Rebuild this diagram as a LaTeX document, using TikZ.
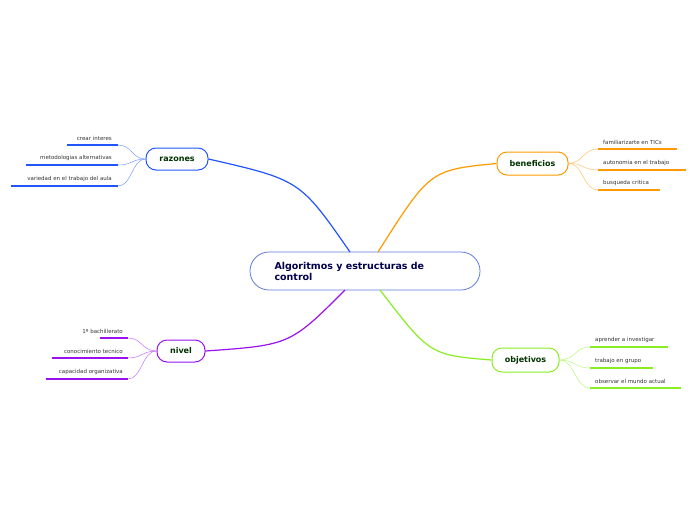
\documentclass[tikz,border=0pt]{standalone}
\usepackage{fontspec}
\setmainfont{DejaVu Sans}
\begin{document}
\begin{tikzpicture}[x=1pt,y=-1pt,
  topic/.style={draw,line width=1pt,rounded corners=10pt,fill=white,font=\fontsize{8}{9}\selectfont\bfseries,text=green!20!black,minimum height=22pt,inner sep=0pt},
  leaf/.style={font=\fontsize{5.5}{6}\selectfont,text=black!80,inner sep=1pt},
  ll/.style={line width=1.6pt},
  cl/.style={line width=0.5pt}]
\useasboundingbox (0,0) rectangle (696,520);
\definecolor{cb}{HTML}{2255FF}\definecolor{co}{HTML}{FF9900}
\definecolor{cp}{HTML}{9911EE}\definecolor{cg}{HTML}{88EE22}
\node[draw=black!20!cb!70,line width=0.8pt,rounded corners=19pt,minimum width=230pt,minimum height=38pt,fill=white] (c) at (365,271) {};
\node[anchor=west,align=left,font=\fontsize{9.5}{11}\selectfont\bfseries,text=blue!30!black] (ct) at (271,271) {Algoritmos y estructuras de\\control};
\coordinate (cb1) at (350,252);\coordinate (co1) at (378,252);
\coordinate (cp1) at (345,290);\coordinate (cg1) at (380,290);
\node[topic,draw=cb,minimum width=62pt] (r) at (177,159) {razones};
\node[topic,draw=co,minimum width=71pt,minimum height=23pt] (b) at (532.5,163.5) {beneficios};
\node[topic,draw=cp,minimum width=48pt] (n) at (181,351) {nivel};
\node[topic,draw=cg,minimum width=67pt,minimum height=24pt] (o) at (525.5,360) {objetivos};
\draw[cb,line width=1.2pt] (cb1) .. controls (300,180) .. (r.east);
\draw[co,line width=1.2pt] (co1) .. controls (430,170) .. (b.west);
\draw[cp,line width=1.2pt] (cp1) .. controls (290,345) .. (n.east);
\draw[cg,line width=1.2pt] (cg1) .. controls (430,355) .. (o.west);
% razones leaves
\foreach \t/\xa/\y [count=\i] in {crear interes/67/145,metodologias alternativas/26/165,variedad en el trabajo del aula/11/186}{
  \coordinate (ra\i) at (\xa,\y); \coordinate (rb\i) at (118,\y);
  \draw[cb,ll] (ra\i) -- (rb\i);
  \node[leaf,anchor=south east] at (113,\y-3) {\t};
  \draw[cb!60,cl] (r.west) .. controls (132,159) and (132,\y) .. (rb\i);}
% beneficios leaves
\foreach \t/\xb/\y [count=\i] in {familiarizarte en TICs/677/149,autonomia en el trabajo/686/170,busqueda critica/660/190}{
  \coordinate (ba\i) at (598,\y); \coordinate (bb\i) at (\xb,\y);
  \draw[co,ll] (ba\i) -- (bb\i);
  \node[leaf,anchor=south west] at (602,\y-3) {\t};
  \draw[co!60,cl] (b.east) .. controls (583,163) and (583,\y) .. (ba\i);}
% nivel leaves
\foreach \t/\xa/\y [count=\i] in {1º bachillerato/100/338,conocimiento tecnico/52/358,capacidad organizativa/46/379}{
  \coordinate (na\i) at (\xa,\y); \coordinate (nb\i) at (128,\y);
  \draw[cp,ll] (na\i) -- (nb\i);
  \node[leaf,anchor=south east] at (124,\y-3) {\t};
  \draw[cp!60,cl] (n.west) .. controls (142,351) and (142,\y) .. (nb\i);}
% objetivos leaves
\foreach \t/\xb/\y [count=\i] in {aprender a investigar/668/347,trabajo en grupo/653/368,observar el mundo actual/681/388}{
  \coordinate (oa\i) at (590,\y); \coordinate (ob\i) at (\xb,\y);
  \draw[cg,ll] (oa\i) -- (ob\i);
  \node[leaf,anchor=south west] at (594,\y-3) {\t};
  \draw[cg!60,cl] (o.east) .. controls (575,360) and (575,\y) .. (oa\i);}
\end{tikzpicture}
\end{document}
